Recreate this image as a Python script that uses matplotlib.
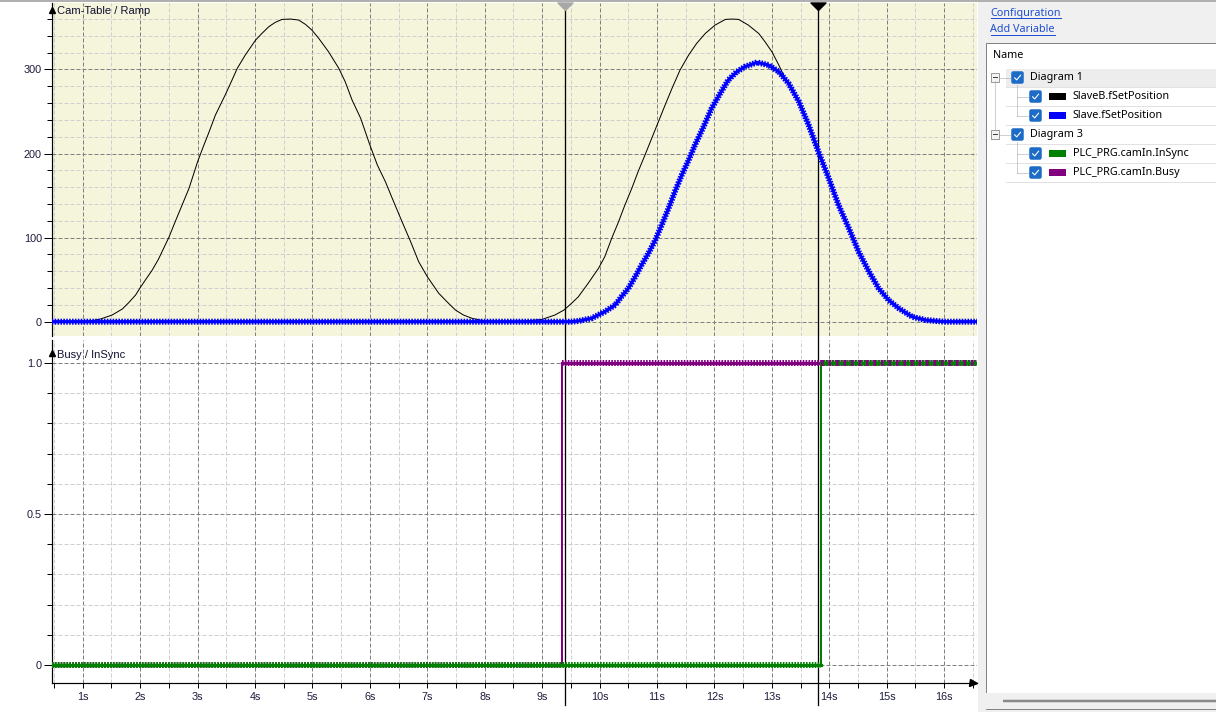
import matplotlib
matplotlib.use('Agg')
import matplotlib.pyplot as plt
from matplotlib.patches import Rectangle, FancyBboxPatch
from matplotlib.path import Path
from matplotlib.ticker import MultipleLocator, FixedLocator, FixedFormatter, NullFormatter

plt.rcParams['lines.scale_dashes'] = False

W, H, DPI = 1216, 712, 100
PX = 72 / DPI  # points per pixel

# ---- trace data (time in s) ----
black_t = [0.46, 1.0, 1.13, 1.31, 1.51, 1.69, 1.80, 1.92, 2.00, 2.09, 2.21, 2.32,
           2.50, 2.61, 2.73, 2.85, 3.00, 3.11, 3.19, 3.31, 3.48, 3.60, 3.69, 3.83,
           4.01, 4.12, 4.24, 4.35, 4.47, 4.62, 4.76, 4.88, 4.99, 5.11, 5.28, 5.46,
           5.57, 5.69, 5.84, 6.00, 6.13, 6.27, 6.39, 6.56, 6.71, 6.85, 7.00, 7.20,
           7.37, 7.49, 7.63, 7.78, 8.00, 8.30, 8.60, 8.81, 9.00, 9.22, 9.38, 9.51,
           9.63, 9.80, 9.98, 10.09, 10.21, 10.33, 10.44, 10.56, 10.67, 10.79, 11.00,
           11.14, 11.26, 11.40, 11.55, 11.69, 11.84, 12.01, 12.19, 12.30, 12.42,
           12.59, 12.77, 12.88, 13.00, 13.12, 13.23, 13.29, 13.47, 13.64, 13.81,
           13.99, 14.16, 14.34, 14.51, 14.69, 14.86, 15.03, 15.21, 15.44, 15.67,
           16.00, 16.57]
black_v = [0, 0, 0.8, 3.2, 7.9, 15.1, 22.6, 31.7, 40.4, 49.5, 61.4, 74.5,
           100.3, 118.9, 138.7, 158.5, 190.2, 210.1, 223.9, 245.7, 269.5, 287.4, 301.2, 317.1,
           334.9, 342.8, 350.8, 355.9, 359.5, 359.9, 358.7, 353.5, 346.8, 336.9, 321.0, 301.2,
           285.4, 263.6, 241.8, 210.1, 186.3, 166.5, 146.6, 118.9, 95.1, 71.3, 53.5, 33.7,
           21.8, 13.9, 7.9, 4.0, 0.8, 0, 0, 1.6, 2.8, 7.9, 13.9, 21.8,
           29.7, 45.6, 63.4, 77.3, 99.1, 118.9, 138.7, 158.5, 178.4, 198.2, 233.8,
           257.6, 277.4, 299.2, 317.1, 331.0, 342.8, 352.7, 359.5, 359.9, 359.5,
           352.7, 342.8, 332.9, 321.0, 305.2, 289.3, 283.4, 261.6, 233.8, 202.1,
           170.4, 138.7, 111.0, 83.2, 59.5, 39.6, 25.8, 15.9, 5.9, 2.0,
           0, 0]

blue_t = [0.46, 9.50, 9.63, 9.86, 10.09, 10.27, 10.38, 10.50, 10.62, 10.73, 10.85,
          10.97, 11.08, 11.20, 11.31, 11.43, 11.55, 11.66, 11.81, 11.95, 12.10,
          12.24, 12.39, 12.53, 12.74, 12.94, 13.12, 13.29, 13.47, 13.64, 13.81,
          13.99, 14.16, 14.34, 14.51, 14.69, 14.86, 15.03, 15.21, 15.44, 15.67,
          16.00, 16.57]
blue_v = [0, 0, 0.8, 4.0, 11.9, 19.8, 29.7, 39.6, 53.5, 67.4, 81.3,
          97.1, 114.9, 134.8, 154.6, 174.4, 192.2, 210.1, 231.9, 253.7, 271.5,
          287.4, 297.3, 303.2, 308.4, 305.2, 297.3, 283.4, 261.6, 233.8, 202.1,
          170.4, 138.7, 111.0, 83.2, 59.5, 39.6, 25.8, 15.9, 5.9, 2.0,
          0, 0]

busy_t = [0.46, 9.35, 9.35, 16.57]
busy_v = [0, 0, 1, 1]
sync_t = [0.46, 13.86, 13.86, 16.57]
sync_v = [0, 0, 1, 1]

cursor_t = [9.39, 13.81]
cursor_head = ['#A8A8A8', 'black']

sec_ticks = list(range(1, 17))
sec_labels = [f'{s}s' for s in sec_ticks]
top_ticks = [0, 100, 200, 300]
top_labels = ['0', '100', '200', '300']
bot_ticks = [0, 0.5, 1.0]
bot_labels = ['0', '0.5', '1.0']

groups = ['Diagram 1', 'Diagram 3']
var_names = ['SlaveB.fSetPosition', 'Slave.fSetPosition',
             'PLC_PRG.camIn.InSync', 'PLC_PRG.camIn.Busy']
var_cols = ['black', '#0000FF', '#008000', '#800080']

CHART_FONT = 'Liberation Sans'
UI_FONT = 'Noto Sans'
TXT = '#1C1C3C'

fig = plt.figure(figsize=(W / DPI, H / DPI), dpi=DPI)


def box(x0, y0, x1, y1):
    return [x0 / W, 1 - y1 / H, (x1 - x0) / W, (y1 - y0) / H]


ui = fig.add_axes([0, 0, 1, 1])
ui.set_xlim(0, W)
ui.set_ylim(H, 0)
ui.axis('off')
ui.set_zorder(0)

ax1 = fig.add_axes(box(52, 3, 977, 336))
ax2 = fig.add_axes(box(52, 340, 977, 683))
for ax in (ax1, ax2):
    ax.set_zorder(2)
    ax.set_xlim(0.465, 16.571)
    ax.set_axisbelow(True)
    for s in ('top', 'right', 'bottom'):
        ax.spines[s].set_visible(False)
    ax.spines['left'].set_color('black')
    ax.spines['left'].set_linewidth(1.2 * PX)
    ax.xaxis.set_major_locator(MultipleLocator(1))
    ax.xaxis.set_minor_locator(MultipleLocator(0.5))
    ax.grid(True, which='major', color='#808080', lw=1 * PX, dashes=(4 * PX, 2 * PX))
    ax.grid(True, which='minor', color='#CFCFCF', lw=1 * PX, dashes=(4 * PX, 2 * PX))
    ax.tick_params(axis='y', which='major', direction='out', length=8 * PX, width=1 * PX,
                   pad=2 * PX, labelsize=7.8, labelcolor=TXT)
    ax.tick_params(axis='y', which='minor', direction='out', length=5 * PX, width=1 * PX)

ax1.set_facecolor('#F5F5DC')
ax1.set_ylim(-17.0, 379.0)
ax1.yaxis.set_major_locator(FixedLocator(top_ticks))
ax1.yaxis.set_major_formatter(FixedFormatter(top_labels))
ax1.yaxis.set_minor_locator(MultipleLocator(20))
ax1.tick_params(axis='x', which='both', length=0, labelbottom=False)

ax2.set_facecolor('white')
ax2.set_ylim(-0.0596, 1.076)
ax2.yaxis.set_major_locator(FixedLocator(bot_ticks))
ax2.yaxis.set_major_formatter(FixedFormatter(bot_labels))
ax2.yaxis.set_minor_locator(MultipleLocator(0.1))
ax2.spines['bottom'].set_visible(True)
ax2.spines['bottom'].set_linewidth(1.2 * PX)
ax2.set_xticks(sec_ticks)
ax2.set_xticklabels(sec_labels)
ax2.xaxis.set_minor_formatter(NullFormatter())
ax2.tick_params(axis='x', which='both', direction='out', length=5 * PX, width=1 * PX,
                pad=4 * PX, labelsize=7.8, labelcolor=TXT)
for lab in ax1.get_yticklabels() + ax2.get_yticklabels() + ax2.get_xticklabels():
    lab.set_family(CHART_FONT)


def trace(ax, t, v, color, z):
    # thick sampled line with "+" marker texture
    ax.plot(t, v, color=color, lw=3.2 * PX, zorder=z)
    ax.plot(t, v, color=color, lw=6 * PX, zorder=z, dashes=(1.6 * PX, 1.3 * PX))


def step_trace(ax, t, v, color, z):
    ax.plot(t, v, color=color, lw=2 * PX, zorder=z)
    for i in range(len(t) - 1):
        if v[i] == v[i + 1]:
            trace(ax, t[i:i + 2], v[i:i + 2], color, z)


ax1.plot(black_t, black_v, color='black', lw=1 * PX, zorder=3)
trace(ax1, blue_t, blue_v, '#0000FF', 4)

step_trace(ax2, busy_t, busy_v, '#800080', 3)
step_trace(ax2, sync_t, sync_v, '#008000', 4)
# purple samples showing through where both signals are high
ax2.plot([sync_t[2], sync_t[3]], [busy_v[2], busy_v[3]], color='#800080', lw=6 * PX,
         zorder=5, dashes=(2.5 * PX, 5 * PX))

# cursors
head = Path([(-1, 1), (1, 1), (0, 0), (-1, 1)],
            [Path.MOVETO, Path.LINETO, Path.LINETO, Path.CLOSEPOLY])
for t, c in zip(cursor_t, cursor_head):
    ax1.axvline(t, color='black', lw=1.3 * PX, zorder=2.5)
    ax2.axvline(t, ymin=-0.064, ymax=1.012, color='black', lw=1.3 * PX, zorder=2.5,
                clip_on=False)
    ax1.plot([t], [1 - 7 / 333], marker=head, ms=15 * PX, color=c, mec=c,
             transform=ax1.get_xaxis_transform(), clip_on=False, zorder=6)

# axis arrows
ax1.plot([0], [1 - 7 / 333], marker='^', ms=6 * PX, color='black',
         transform=ax1.transAxes, clip_on=False, zorder=6)
ax2.plot([0], [1 - 13 / 343], marker='^', ms=6 * PX, color='black',
         transform=ax2.transAxes, clip_on=False, zorder=6)
ax2.plot([1 - 4 / 925], [0], marker='>', ms=7 * PX, color='black',
         transform=ax2.transAxes, clip_on=False, zorder=6)

ax1.text(5 / 925, 1 - 8 / 333, 'Cam-Table / Ramp', transform=ax1.transAxes,
         ha='left', va='center', fontsize=8, family=CHART_FONT, color='#101030', zorder=7)
ax2.text(5 / 925, 1 - 15 / 343, 'Busy / InSync', transform=ax2.transAxes,
         ha='left', va='center', fontsize=8, family=CHART_FONT, color='#101030', zorder=7)

# ---- right hand variable panel ----
ui.plot([0, W], [1, 1], color='#B0B0B0', lw=2 * PX)
ui.add_patch(Rectangle((978, 2), W - 978, H - 2, facecolor='#F0F0F0', edgecolor='none'))
ui.add_patch(Rectangle((985.5, 42.5), 240, 666.5, facecolor='white', edgecolor='#828282',
                       lw=1 * PX))
ui.add_patch(Rectangle((986, 693), 230, 15.5, facecolor='#F0F0F0', edgecolor='none'))
ui.plot([1003, W], [700.5, 700.5], color='#8A8A8A', lw=2.5 * PX, solid_capstyle='butt')

link_col = '#1F4FD1'
fig.canvas.draw()
for txt, y in (('Configuration', 13.5), ('Add Variable', 30)):
    tt = ui.text(990.5, y, txt, ha='left', va='center', fontsize=7.8, family=UI_FONT,
                 color=link_col)
    bb = tt.get_window_extent(renderer=fig.canvas.get_renderer())
    ui.plot([990.5, 990.5 + bb.width], [y + 4.5, y + 4.5], color=link_col, lw=1 * PX)

ui.text(992.5, 56, 'Name', ha='left', va='center', fontsize=7.8, family=UI_FONT,
        color='black')

row_y = [77.5, 96.5, 115.5, 134.5, 153.5, 172.5]
ui.add_patch(Rectangle((1006, 68.5), W - 1006, 19, facecolor='#EDEDED', edgecolor='none'))
for y in row_y:
    ui.plot([1006, W], [y + 9.5, y + 9.5], color='#E2E2E2', lw=1 * PX)


def checkbox(x0, yc):
    ui.add_patch(FancyBboxPatch((x0, yc - 6), 12, 12, boxstyle='round,pad=0,rounding_size=2',
                                facecolor='#1C6BC6', edgecolor='#1C6BC6', lw=0.5 * PX))
    ui.plot([x0 + 3, x0 + 5.2, x0 + 9.2], [yc + 0.2, yc + 2.4, yc - 2.4], color='white',
            lw=1.1 * PX, solid_capstyle='round')


dot = dict(color='#A0A0A0', lw=1 * PX, dashes=(1 * PX, 1 * PX))
group_rows = [row_y[0], row_y[3]]
child_rows = [row_y[1], row_y[2], row_y[4], row_y[5]]
ui.plot([995, 995], [81, 130.5], **dot)
for g, yc in zip(groups, group_rows):
    ui.plot([999, 1011], [yc, yc], **dot)
    ui.add_patch(Rectangle((990.5, yc - 4.5), 8.5, 8.5, facecolor='#F4F4F4',
                           edgecolor='#9A9A9A', lw=1 * PX))
    ui.plot([992.5, 997], [yc - 0.25, yc - 0.25], color='#404040', lw=1 * PX)
    checkbox(1011.5, yc)
    ui.text(1029.5, yc, g, ha='left', va='center', fontsize=7.8, family=UI_FONT,
            color='black')
    ui.plot([1016.5, 1016.5], [yc + 7, yc + 38], **dot)

for name, col, yc in zip(var_names, var_cols, child_rows):
    ui.plot([1016.5, 1028.5], [yc, yc], **dot)
    checkbox(1029.5, yc)
    ui.add_patch(Rectangle((1049, yc - 3.5), 17, 7, facecolor=col, edgecolor='none'))
    ui.text(1072.5, yc, name, ha='left', va='center', fontsize=7.8, family=UI_FONT,
            color='black')

fig.savefig('out.png', dpi=DPI)
